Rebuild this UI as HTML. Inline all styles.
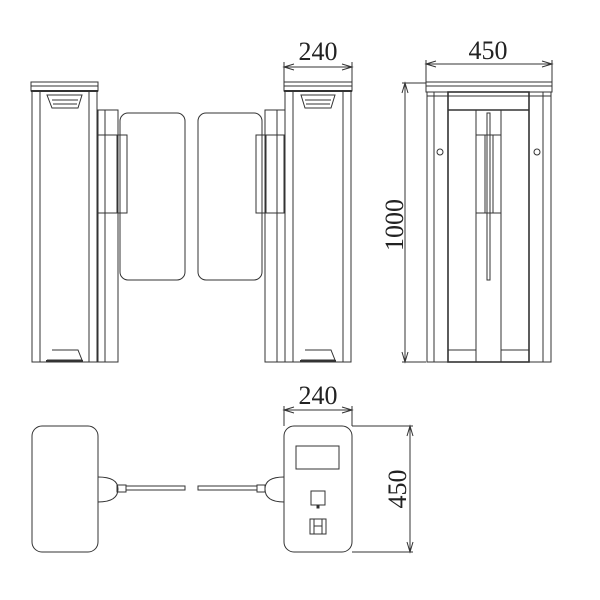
<!DOCTYPE html>
<html><head><style>body{margin:0;background:#fff}svg{display:block}</style></head><body>
<svg width="600" height="600" viewBox="0 0 600 600" xmlns="http://www.w3.org/2000/svg" fill="none" stroke="#333" stroke-width="1">
<!-- left cabinet front -->
<rect x="31" y="82" width="67" height="9"/>
<line x1="31" y1="86" x2="98" y2="86"/>
<line x1="31" y1="91" x2="98" y2="91" stroke-width="2"/>
<rect x="32" y="91" width="65" height="271"/>
<line x1="40" y1="91" x2="40" y2="362"/>
<line x1="89" y1="91" x2="89" y2="362"/>
<path d="M47 95 L82 95 L78 108 L52 108 Z"/>
<line x1="52" y1="100" x2="78" y2="100"/><line x1="53" y1="104" x2="77" y2="104"/>
<path d="M52 350 L78 350 L82 360 L47 360"/>
<line x1="46" y1="361" x2="83" y2="361" stroke-width="2"/>
<rect x="98" y="110" width="20" height="252"/>
<line x1="105" y1="110" x2="105" y2="362"/>
<rect x="98" y="135" width="29" height="78"/>
<line x1="117" y1="135" x2="117" y2="213"/>
<rect x="120" y="113" width="65" height="167" rx="8"/>
<!-- right gate + cabinet -->
<rect x="198" y="113" width="64" height="167" rx="8"/>
<rect x="265" y="110" width="20" height="252"/>
<line x1="277" y1="110" x2="277" y2="362"/>
<rect x="256" y="135" width="28" height="78"/>
<line x1="266" y1="135" x2="266" y2="213"/>
<rect x="284" y="82" width="68" height="9"/>
<line x1="284" y1="86" x2="352" y2="86"/>
<line x1="284" y1="91" x2="352" y2="91" stroke-width="2"/>
<rect x="285" y="91" width="66" height="271"/>
<line x1="293" y1="91" x2="293" y2="362"/>
<line x1="343" y1="91" x2="343" y2="362"/>
<path d="M301 95 L335 95 L331 108 L305 108 Z"/>
<line x1="305" y1="100" x2="331" y2="100"/><line x1="306" y1="104" x2="330" y2="104"/>
<path d="M305 350 L331 350 L335 360 L301 360"/>
<line x1="300" y1="361" x2="336" y2="361" stroke-width="2"/>
<line x1="284" y1="62" x2="284" y2="82"/><line x1="352" y1="62" x2="352" y2="82"/>
<line x1="284" y1="67" x2="352" y2="67"/>
<path d="M294 64 L284 67 L294 70 M342 64 L352 67 L342 70"/>
<text x="318" y="60" font-family="Liberation Serif, serif" font-size="26" fill="#222" stroke="none" text-anchor="middle">240</text>
<!-- side view -->
<rect x="426" y="82" width="126" height="10"/>
<line x1="426" y1="86" x2="552" y2="86"/>
<rect x="427" y="92" width="124" height="270"/>
<line x1="427" y1="96" x2="551" y2="96"/>
<line x1="434" y1="92" x2="434" y2="362"/>
<line x1="543" y1="92" x2="543" y2="362"/>
<rect x="448" y="92" width="81" height="270" stroke-width="1.6"/>
<line x1="448" y1="110" x2="529" y2="110" stroke-width="1.5"/>
<rect x="476" y="110" width="25" height="252"/>
<line x1="476" y1="135" x2="501" y2="135"/>
<line x1="476" y1="213" x2="501" y2="213"/>
<rect x="487" y="113" width="3" height="167"/>
<rect x="485" y="135" width="8" height="78"/>
<rect x="448" y="350" width="28" height="12"/>
<rect x="501" y="350" width="28" height="12"/>
<circle cx="440" cy="152" r="3"/><circle cx="537" cy="152" r="3"/>
<line x1="426" y1="60" x2="426" y2="82"/><line x1="552" y1="60" x2="552" y2="82"/>
<line x1="426" y1="64" x2="552" y2="64"/>
<path d="M436 61 L426 64 L436 67 M542 61 L552 64 L542 67"/>
<text x="488" y="59" font-family="Liberation Serif, serif" font-size="26" fill="#222" stroke="none" text-anchor="middle">450</text>
<line x1="402" y1="83" x2="426" y2="83"/><line x1="402" y1="362" x2="426" y2="362"/>
<line x1="405" y1="83" x2="405" y2="362"/>
<path d="M402 93 L405 83 L408 93 M402 352 L405 362 L408 352"/>
<text transform="translate(403,225) rotate(-90)" font-family="Liberation Serif, serif" font-size="26" fill="#222" stroke="none" text-anchor="middle">1000</text>
<!-- top view -->
<rect x="32" y="426" width="66" height="126" rx="10"/>
<path d="M98 477 Q118 477 118 489 Q118 502 98 502"/>
<rect x="117" y="485" width="9" height="7"/>
<rect x="126" y="486" width="59" height="4"/>
<rect x="198" y="486" width="59" height="4"/>
<rect x="257" y="485" width="8" height="7"/>
<path d="M284 477 Q265 477 265 489 Q265 502 284 502"/>
<rect x="284" y="426" width="68" height="126" rx="10"/>
<rect x="296" y="446" width="43" height="23"/>
<rect x="311" y="491" width="14" height="14"/>
<rect x="317" y="506" width="2" height="2" fill="#222"/>
<rect x="310" y="519" width="16" height="15"/>
<line x1="314" y1="519" x2="314" y2="534"/><line x1="322" y1="519" x2="322" y2="534"/>
<line x1="314" y1="526" x2="322" y2="526"/>
<line x1="284" y1="406" x2="284" y2="426"/><line x1="352" y1="406" x2="352" y2="426"/>
<line x1="284" y1="410" x2="352" y2="410"/>
<path d="M294 407 L284 410 L294 413 M342 407 L352 410 L342 413"/>
<text x="318" y="404" font-family="Liberation Serif, serif" font-size="26" fill="#222" stroke="none" text-anchor="middle">240</text>
<line x1="352" y1="426" x2="413" y2="426"/><line x1="352" y1="552" x2="413" y2="552"/>
<line x1="410" y1="426" x2="410" y2="552"/>
<path d="M407 436 L410 426 L413 436 M407 542 L410 552 L413 542"/>
<text transform="translate(406,489) rotate(-90)" font-family="Liberation Serif, serif" font-size="26" fill="#222" stroke="none" text-anchor="middle">450</text>
</svg>
</body></html>
